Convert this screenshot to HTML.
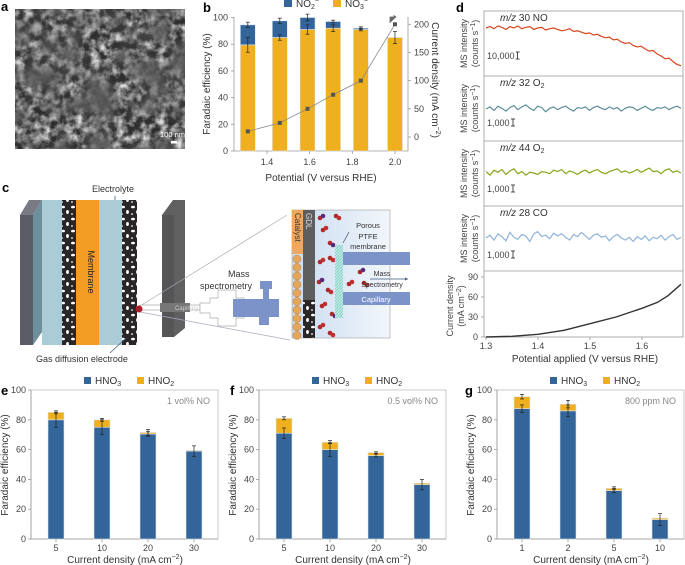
<!DOCTYPE html>
<html><head><meta charset="utf-8">
<style>
html,body{margin:0;padding:0;background:#fff;}
svg{display:block;font-family:"Liberation Sans",sans-serif;}
.t{font-size:9px;fill:#444;}
.ti{font-size:10px;fill:#333;}
.pl{font-size:13px;font-weight:bold;fill:#000;}
</style></head>
<body>
<svg id="fig" width="685" height="565" viewBox="0 0 685 565" xmlns="http://www.w3.org/2000/svg">
<defs>
<filter id="sem" x="0" y="0" width="100%" height="100%">
<feTurbulence type="fractalNoise" baseFrequency="0.12" numOctaves="3" seed="4"/>
<feColorMatrix type="matrix" values="0 0 0 0 0.75  0 0 0 0 0.75  0 0 0 0 0.75  2.2 0 0 0 -0.75"/>
<feComposite in2="SourceGraphic" operator="in"/>
</filter>
<filter id="sem2" x="0" y="0" width="100%" height="100%">
<feTurbulence type="fractalNoise" baseFrequency="0.035" numOctaves="2" seed="9"/>
<feColorMatrix type="matrix" values="0 0 0 0 0.1  0 0 0 0 0.1  0 0 0 0 0.1  2.2 0 0 0 -0.8"/>
<feComposite in2="SourceGraphic" operator="in"/>
</filter>
<pattern id="poro" width="10" height="12" patternUnits="userSpaceOnUse">
<rect width="10" height="12" fill="#2a2526"/>
<ellipse cx="3" cy="3" rx="2" ry="1.3" fill="#fff"/>
<ellipse cx="7.5" cy="8" rx="1.4" ry="2" fill="#fff"/>
<ellipse cx="2" cy="10" rx="1" ry="0.8" fill="#fff"/>
</pattern>
<pattern id="hatch" width="3" height="3" patternUnits="userSpaceOnUse">
<rect width="3" height="3" fill="#bfe8e2"/><path d="M0 3L3 0" stroke="#7fd0c6" stroke-width="0.8"/>
</pattern>
<linearGradient id="insetg" x1="0" x2="1"><stop offset="0" stop-color="#c9dcf0"/><stop offset="1" stop-color="#f2f6fb"/></linearGradient>
</defs>

<text class="pl" x="1" y="11">a</text>
<g>
<rect x="15" y="9" width="170" height="140" fill="#2e2e2e"/>
<rect x="15" y="9" width="170" height="140" fill="#ddd" filter="url(#sem)"/>
<rect x="15" y="9" width="170" height="140" fill="#ddd" filter="url(#sem2)"/>
<rect x="171" y="141" width="6" height="2.5" fill="#fff"/>
<text x="160" y="137" font-size="7.5" fill="#fff">100 nm</text>
</g>

<text class="pl" x="203" y="12">b</text>
<g id="pb"></g>

<text class="pl" x="2" y="192">c</text>
<g>
<text x="113" y="192" text-anchor="middle" font-size="9" fill="#333">Electrolyte</text>
<path d="M115 212 L115 196" stroke="#3d5a80" stroke-width="0.8"/>
<polygon points="20,215 33,215 42,200 29,200" fill="#7a7a84"/>
<rect x="20" y="215" width="13" height="130" fill="#5c5c66"/>
<polygon points="33,215 42,200 42,332 33,345" fill="#6d8f9c"/>
<rect x="42" y="200" width="20" height="145" fill="#a9ccd6"/>
<rect x="62" y="200" width="14" height="145" fill="url(#poro)"/>
<rect x="76" y="200" width="23" height="145" fill="#f39c24"/>
<text transform="translate(88,272) rotate(90)" text-anchor="middle" font-size="9" fill="#222">Membrane</text>
<rect x="99" y="200" width="23" height="145" fill="#a9ccd6"/>
<rect x="122" y="200" width="15" height="145" fill="url(#poro)"/>
<polygon points="162,215 173,200 185,200 185,328 174,337 162,337" fill="#606060"/>
<rect x="162" y="215" width="12" height="122" fill="#555"/>
<path d="M140 306 L287 215 M140 312 L290 340" stroke="#aab" stroke-width="0.7" fill="none"/>
<rect x="140" y="305" width="60" height="5" fill="#fff" stroke="#999" stroke-width="0.6"/>
<rect x="160" y="303" width="30" height="9" fill="#777"/>
<text x="175" y="310" font-size="6" fill="#ccc">Capillary</text>
<circle cx="139" cy="309" r="3.5" fill="#a8202a"/>
<path d="M200 303 h10 v-5 h8 v-8 h18 v8 h8 v20 h-8 v8 h-18 v-8 h-8 v-5 h-10z" fill="#fff" stroke="#aaa" stroke-width="0.7"/>
<path d="M233 299 h30 v-10 h-3 v-8 h12 v8 h-3 v10 h10 v18 h-10 v8 h-10 v-8 h-26z" fill="#7b93c9"/>
<text x="228" y="277" font-size="9" fill="#333">Mass</text>
<text x="200" y="289" font-size="9" fill="#333">spectrometry</text>
<text x="82" y="362" text-anchor="middle" font-size="9" fill="#333">Gas diffusion electrode</text>
<path d="M110 353 L126 338" stroke="#3d5a80" stroke-width="0.7"/>
<rect x="292" y="210" width="98" height="128" fill="url(#insetg)" stroke="#aaa" stroke-width="0.7"/>
<rect x="292" y="210" width="11" height="44" fill="#f0a860"/>
<text transform="translate(295,213) rotate(90)" font-size="8" fill="#333">Catalyst</text>
<rect x="303" y="210" width="12" height="90" fill="#5e5e5e"/>
<rect x="303" y="300" width="12" height="38" fill="url(#poro)"/>
<text transform="translate(306,213) rotate(90)" font-size="8" fill="#ddd">GDL</text>
<g id="beads"></g>
<g id="mols"></g>
<rect x="335" y="245" width="8" height="73" fill="url(#hatch)"/>
<rect x="343" y="252" width="67" height="13" fill="#7b93c9"/>
<rect x="343" y="292" width="67" height="13" fill="#7b93c9"/>
<text x="376" y="302" text-anchor="middle" font-size="7.5" fill="#fff">Capillary</text>
<text x="368" y="228" text-anchor="middle" font-size="7.5" fill="#333">Porous</text>
<text x="368" y="239" text-anchor="middle" font-size="7.5" fill="#333">PTFE</text>
<text x="368" y="249" text-anchor="middle" font-size="7.5" fill="#333">membrane</text>
<path d="M349 232 L343 243" stroke="#335" stroke-width="0.6"/>
<text x="382" y="276" text-anchor="middle" font-size="7" fill="#333">Mass</text>
<path d="M370 279 H408" stroke="#3d5a80" stroke-width="0.7"/><path d="M408 279 l-3 -1.5 v3z" fill="#3d5a80"/>
<text x="382" y="287" text-anchor="middle" font-size="7" fill="#333">Spectrometry</text>
</g>

<text class="pl" x="456" y="12">d</text>
<g id="pd"></g>

<text class="pl" x="1" y="395">e</text>
<text class="pl" x="230" y="395">f</text>
<text class="pl" x="465" y="395">g</text>
<g id="pe"></g>
<g id="pf"></g>
<g id="pg"></g>
</svg>

<script>
const bPotential = [1.31, 1.46, 1.59, 1.71, 1.84, 2.0];
const bNO3 = [79.5, 85, 91, 92, 91, 85];
const bTotal = [94.5, 97.5, 100, 97, 92, 85];
const bNO3Err = [5.5, 2, 3.5, 2.5, 1, 4.5];
const bTotalErr = [2, 2, 2.5, 1, 1, 0];
const bCurrent = [10, 25, 50, 75, 100, 200];
const bXTicks = [1.4, 1.6, 1.8, 2.0];
const bYTicks = [0, 20, 40, 60, 80, 100];
const bY2Ticks = [0, 50, 100, 150, 200];

const dMS_NO = [0,2,-1,3,1,-2,2,0,3,-1,1,2,-2,0,1,-3,-1,0,-2,-4,-3,-1,-5,-4,-6,-8,-7,-10,-9,-12,-14,-13,-17,-16,-20,-22,-21,-25,-27,-26,-30,-33,-32,-37,-40,-44,-43,-48,-52,-54];
const dMS_O2 = [0,0.3,-0.2,0.4,0.1,-0.3,0.2,0.5,-0.1,0.3,0.6,0.1,-0.2,0.4,0.2,-0.4,0.1,0.3,-0.1,0.2,0.4,0,-0.3,0.2,0.1,0.3,-0.2,0.2,0.4,0.1,-0.1,0.3,0,0.2,-0.3,0.1,0.3,0.2,-0.2,0.1,0.4,0,-0.2,0.2,0.1,0.3,-0.1,0.2,0.4,0.1];
const dMS_44 = [0.2,-0.3,0.4,0.1,0.5,-0.2,0.3,0.6,-0.1,0.2,-0.3,0.1,0,-0.2,0.2,0.1,-0.1,0.4,0.2,0.5,-0.1,0.3,0.1,-0.2,0.2,0.4,0,0.3,0.5,0.1,-0.1,0.2,0.4,0.6,0.1,0.3,0,0.2,0.5,0.1,0.4,0.7,0.2,0.3,-0.1,0.4,0.6,0.1,0.3,0];
const dMS_CO = [0,0.4,-0.3,0.6,0.2,-0.4,0.8,0.1,-0.2,0.5,0.3,-0.5,0.6,0.9,0.2,0.4,-0.1,0.7,0.3,0.6,0.1,-0.3,0.5,0.2,0.8,0.3,-0.2,0.4,0.6,0.1,0.3,-0.4,0.2,0.5,0,-0.3,0.1,-0.5,0.2,-0.2,0.3,-0.4,0.1,-0.1,0.4,-0.3,0.2,0.5,-0.2,0.1];
const dCurPot = [1.3, 1.35, 1.4, 1.45, 1.5, 1.55, 1.6, 1.63, 1.65, 1.675];
const dCurrent = [0, 1, 4, 10, 20, 30, 43, 52, 62, 79];
const dXTicks = [1.3, 1.4, 1.5, 1.6];
const dYTicks = [0, 30, 60, 90];

const eCats = ['5', '10', '20', '30'];
const eHNO3 = [80, 75, 70.5, 59];
const eTotal = [85, 80, 71.5, 59.5];
const eHNO3Err = [5, 5, 1.5, 3.5];
const eTotalErr = [1, 1, 2, 0];
const fCats = ['5', '10', '20', '30'];
const fHNO3 = [71, 60, 56, 36.5];
const fTotal = [81, 65, 58, 37.5];
const fHNO3Err = [3.5, 4.5, 1, 3.5];
const fTotalErr = [1, 1, 0.5, 0];
const gCats = ['1', '2', '5', '10'];
const gHNO3 = [87.5, 86, 32.5, 13];
const gTotal = [95.5, 90.5, 34, 14];
const gHNO3Err = [2.5, 4, 1.5, 4];
const gTotalErr = [1.5, 2.5, 1, 0];
const efgYTicks = [0, 20, 40, 60, 80, 100];

const NS = 'http://www.w3.org/2000/svg';
const BLUE = '#34659a', YEL = '#efb01f', AX = '#999';
function mk(tag, parent) { const e = document.createElementNS(NS, tag); parent.appendChild(e); return e; }
function line(p, x1, y1, x2, y2, c, w) { const l = mk('line', p); l.setAttribute('x1', x1); l.setAttribute('y1', y1); l.setAttribute('x2', x2); l.setAttribute('y2', y2); l.setAttribute('stroke', c); l.setAttribute('stroke-width', w); return l; }
function txt(p, x, y, s, cls, anchor) { const t = mk('text', p); t.setAttribute('x', x); t.setAttribute('y', y); t.setAttribute('class', cls); t.setAttribute('text-anchor', anchor || 'middle'); t.textContent = s; return t; }
function sub(t, s, dy) { const ts = mk('tspan', t); ts.setAttribute('font-size', '7'); ts.setAttribute('dy', dy); ts.textContent = s; return ts; }
function rect(p, x, y, w, h, fill) { const r = mk('rect', p); r.setAttribute('x', x); r.setAttribute('y', y); r.setAttribute('width', w); r.setAttribute('height', h); r.setAttribute('fill', fill); return r; }
function barRect(p, x, y, w, h, fill) { const r = rect(p, x, y, w, h, fill); r.setAttribute('stroke', '#dfe6ef'); r.setAttribute('stroke-width', '0.6'); return r; }
function errbar(p, x, yc, yl, yh) { line(p, x, yl, x, yh, '#222', 0.7); line(p, x - 2, yl, x + 2, yl, '#222', 0.7); line(p, x - 2, yh, x + 2, yh, '#222', 0.7); }

(function () {
  const g = document.getElementById('pb');
  const X = v => 267 + (v - 1.4) * 213.3;
  const Y = v => 151 - v * 1.335;
  const Y2 = v => 137 - v * 0.5635;
  const l1 = rect(g, 284, 0, 8, 7, BLUE);
  
  
  const t1 = txt(g, 296, 7, 'NO', 'ti', 'start'); sub(t1, '2', 2); sub(t1, '−', -6);
  const l2 = rect(g, 333, 0, 8, 7, YEL);
  
  
  const t2 = txt(g, 345, 7, 'NO', 'ti', 'start'); sub(t2, '3', 2); sub(t2, '−', -6);
  line(g, 234, 17, 234, 151, AX, 0.8); line(g, 234, 151, 408, 151, AX, 0.8); line(g, 408, 17, 408, 151, AX, 0.8);
  bYTicks.forEach(v => { line(g, 231, Y(v), 234, Y(v), AX, 0.8); txt(g, 228, Y(v) + 3, String(v), 't', 'end'); });
  bY2Ticks.forEach(v => { line(g, 408, Y2(v), 411, Y2(v), AX, 0.8); txt(g, 414, Y2(v) + 3, String(v), 't', 'start'); });
  bXTicks.forEach(v => { line(g, X(v), 151, X(v), 154, AX, 0.8); txt(g, X(v), 165, v.toFixed(1), 't'); });
  const xt = txt(g, 321, 181, 'Potential (V versus RHE)', 'ti');
  
  
  const yt = txt(g, 0, 0, 'Faradaic efficiency (%)', 'ti'); yt.setAttribute('transform', 'translate(210,84) rotate(-90)');
  
  
  const yt2 = txt(g, 0, 0, 'Current density (mA cm', 'ti'); yt2.setAttribute('transform', 'translate(432,80) rotate(90)');
  sub(yt2, '−2', -4); const cl = sub(yt2, ')', 4); cl.setAttribute('font-size', '10');
  
  
  bPotential.forEach((p, i) => {
    const x = X(p);
    const r1 = barRect(g, x - 7.5, Y(bNO3[i]), 15, Y(0) - Y(bNO3[i]), YEL);
    
    
    if (bTotal[i] > bNO3[i]) {
      const r2 = barRect(g, x - 7.5, Y(bTotal[i]), 15, Y(bNO3[i]) - Y(bTotal[i]), BLUE);
      
      
    }
    errbar(g, x, 0, Y(bNO3[i] - bNO3Err[i]), Y(bNO3[i] + bNO3Err[i]));
    if (bTotalErr[i] > 0) errbar(g, x, 0, Y(bTotal[i] - bTotalErr[i]), Y(bTotal[i] + bTotalErr[i]));
  });
  const pl = mk('polyline', g);
  pl.setAttribute('points', bPotential.map((p, i) => X(p) + ',' + Y2(bCurrent[i])).join(' '));
  pl.setAttribute('fill', 'none'); pl.setAttribute('stroke', '#888'); pl.setAttribute('stroke-width', '0.8');
  
  
  bPotential.forEach((p, i) => {
    const m = rect(g, X(p) - 2, Y2(bCurrent[i]) - 2, 4, 4, '#555');
    
    
  });
  const ar = mk('path', g); ar.setAttribute('d', 'M390 23 v-6 h6 M396 17 l-2 -1.5 v3z'); ar.setAttribute('stroke', '#666'); ar.setAttribute('stroke-width', '0.7'); ar.setAttribute('fill', '#666');
})();

(function () {
  const b = document.getElementById('beads');
  for (let y = 259; y <= 336; y += 8.5) { const c = mk('circle', b); c.setAttribute('cx', 297); c.setAttribute('cy', y); c.setAttribute('r', 4); c.setAttribute('fill', '#e3a65a'); c.setAttribute('stroke', '#c08040'); c.setAttribute('stroke-width', '0.5'); }
  const m = document.getElementById('mols');
  const pos = [[320,218],[336,216],[323,230],[330,243],[320,262],[330,258],[319,282],[328,290],[322,306],[332,314],[320,327],[330,333],[360,272],[364,283],[349,284]];
  pos.forEach((p, i) => {
    const a = mk('circle', m); a.setAttribute('cx', p[0]); a.setAttribute('cy', p[1]); a.setAttribute('r', 2.3); a.setAttribute('fill', '#b02a2a');
    const c = mk('circle', m); c.setAttribute('cx', p[0] + 3); c.setAttribute('cy', p[1] + (i % 2 ? 2 : -2)); c.setAttribute('r', 2.3); c.setAttribute('fill', i % 3 ? '#c0302e' : '#5a2a7a');
  });
})();

(function () {
  const g = document.getElementById('pd');
  const X = v => 486 + (v - 1.3) * 520;
  const rows = [
    { top: 11, bot: 76, base: 28, k: 0.7, data: dMS_NO, col: '#d9451f', label: '30 NO', s: '', bar: '10,000', by: 56 },
    { top: 76, bot: 141, base: 109, k: 7, data: dMS_O2, col: '#5e8e98', label: '32 O', s: '2', bar: '1,000', by: 123 },
    { top: 141, bot: 206, base: 173, k: 7, data: dMS_44, col: '#86a61a', label: '44 O', s: '2', bar: '1,000', by: 189 },
    { top: 206, bot: 271, base: 238, k: 7, data: dMS_CO, col: '#8fb3d9', label: '28 CO', s: '', bar: '1,000', by: 255 }
  ];
  const fr = rect(g, 484, 11, 199, 326, 'none'); fr.setAttribute('stroke', AX); fr.setAttribute('stroke-width', '0.8');
  rows.forEach((r, ri) => {
    if (ri > 0) line(g, 484, r.top, 683, r.top, AX, 0.8);
    const t = txt(g, 500, r.top + 10, '', 'ti', 'start');
    const it = mk('tspan', t); it.setAttribute('font-style', 'italic'); it.textContent = 'm/z';
    const rest = mk('tspan', t); rest.textContent = ' ' + r.label;
    if (r.s) sub(t, r.s, 2);
    
    
    const pts = r.data.map((v, i) => {
      const pot = 1.3 + i * (0.375 / (r.data.length - 1));
      return X(pot).toFixed(1) + ',' + (r.base - v * r.k).toFixed(1);
    }).join(' ');
    const pl = mk('polyline', g); pl.setAttribute('points', pts); pl.setAttribute('fill', 'none'); pl.setAttribute('stroke', r.col); pl.setAttribute('stroke-width', '1.2');
    
    
    txt(g, 487, r.by + 3, r.bar, 't', 'start');
    const bw = r.bar.length * 4.6 + 490;
    line(g, bw, r.by - 4, bw, r.by + 3, '#222', 0.8); line(g, bw - 2, r.by - 4, bw + 2, r.by - 4, '#222', 0.8); line(g, bw - 2, r.by + 3, bw + 2, r.by + 3, '#222', 0.8);
    const mid = (r.top + r.bot) / 2;
    const y1 = txt(g, 0, 0, 'MS intensity', 't'); y1.setAttribute('transform', 'translate(467,' + mid + ') rotate(-90)');
    const y2 = txt(g, 0, 0, '(counts s', 't'); y2.setAttribute('transform', 'translate(478,' + mid + ') rotate(-90)');
    sub(y2, '−1', -3); const c = sub(y2, ')', 3); c.setAttribute('font-size', '9');
  });
  line(g, 484, 271, 683, 271, AX, 0.8);
  const Y = v => 337 - v * (60 / 90);
  dYTicks.forEach(v => { line(g, 481, Y(v), 484, Y(v), AX, 0.8); txt(g, 478, Y(v) + 3, String(v), 't', 'end'); });
  dXTicks.forEach(v => { line(g, X(v), 337, X(v), 340, AX, 0.8); txt(g, X(v), 349, v.toFixed(1), 't'); });
  const cur = mk('polyline', g);
  cur.setAttribute('points', dCurPot.map((p, i) => X(p).toFixed(1) + ',' + Y(dCurrent[i]).toFixed(1)).join(' '));
  cur.setAttribute('fill', 'none'); cur.setAttribute('stroke', '#333'); cur.setAttribute('stroke-width', '1.4');
  
  
  const c1 = txt(g, 0, 0, 'Current density', 't'); c1.setAttribute('transform', 'translate(453,306) rotate(-90)');
  const c2 = txt(g, 0, 0, '(mA cm', 't'); c2.setAttribute('transform', 'translate(464,306) rotate(-90)');
  sub(c2, '−2', -3); const cc = sub(c2, ')', 3); cc.setAttribute('font-size', '9');
  const xt = txt(g, 585, 362, 'Potential applied (V versus RHE)', 'ti');
  
  
})();

function stackPanel(id, left, cats, hno3, total, hErr, tErr, note) {
  const g = document.getElementById(id);
  const right = left + 187;
  const Y = v => 539 - v * 1.49;
  const X = i => left + 25 + i * 46;
  const fr = mk('path', g); fr.setAttribute('d', `M${left} 390 H${right} V539 H${left}Z`); fr.setAttribute('fill', 'none'); fr.setAttribute('stroke', '#bbb'); fr.setAttribute('stroke-width', '0.8');
  line(g, left, 390, left, 539, AX, 0.8); line(g, left, 539, right, 539, AX, 0.8);
  efgYTicks.forEach(v => { line(g, left - 3, Y(v), left, Y(v), AX, 0.8); txt(g, left - 5, Y(v) + 3, String(v), 't', 'end'); });
  const lx = left + 53;
  const s1 = rect(g, lx, 377, 7, 7, BLUE);
  
  
  const t1 = txt(g, lx + 11, 384, 'HNO', 'ti', 'start'); sub(t1, '3', 2);
  const s2 = rect(g, lx + 53, 377, 7, 7, YEL);
  
  
  const t2 = txt(g, lx + 64, 384, 'HNO', 'ti', 'start'); sub(t2, '2', 2);
  const n = txt(g, right - 8, 404, note, 't', 'end'); n.setAttribute('style', 'fill:#888');
  cats.forEach((c, i) => {
    const x = X(i);
    line(g, x, 539, x, 542, AX, 0.8);
    txt(g, x, 551, c, 't');
    const b1 = barRect(g, x - 8, Y(hno3[i]), 16, Y(0) - Y(hno3[i]), BLUE);
    
    
    const b2 = barRect(g, x - 8, Y(total[i]), 16, Y(hno3[i]) - Y(total[i]), YEL);
    
    
    errbar(g, x, 0, Y(hno3[i] - hErr[i]), Y(hno3[i] + hErr[i]));
    if (tErr[i] > 0) errbar(g, x, 0, Y(total[i] - tErr[i]), Y(total[i] + tErr[i]));
  });
  const xt = txt(g, left + 94, 563, 'Current density (mA cm', 'ti'); sub(xt, '−2', -4); const cl = sub(xt, ')', 4); cl.setAttribute('font-size', '10');
  
  
  const yt = txt(g, 0, 0, 'Faradaic efficiency (%)', 'ti'); yt.setAttribute('transform', `translate(${left - 23},465) rotate(-90)`);
  
  
}
stackPanel('pe', 31, eCats, eHNO3, eTotal, eHNO3Err, eTotalErr, '1 vol% NO');
stackPanel('pf', 259, fCats, fHNO3, fTotal, fHNO3Err, fTotalErr, '0.5 vol% NO');
stackPanel('pg', 497, gCats, gHNO3, gTotal, gHNO3Err, gTotalErr, '800 ppm NO');
</script>
</body></html>
